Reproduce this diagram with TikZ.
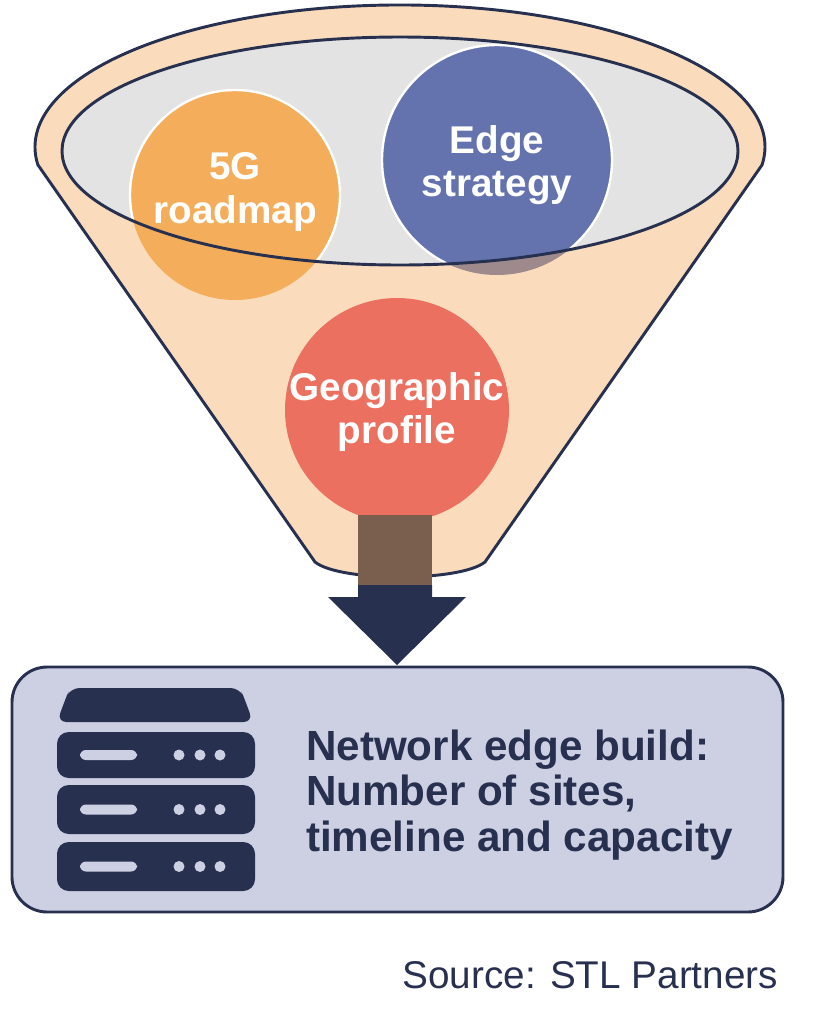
\documentclass[tikz,border=0pt]{standalone}
\usepackage{fontspec}
\setmainfont{Liberation Sans}
\definecolor{navy}{HTML}{283050}
\definecolor{funnel}{HTML}{FADCBD}
\definecolor{inner}{HTML}{E3E3E3}
\definecolor{orng}{HTML}{F4AD5A}
\definecolor{blu}{HTML}{6473AE}
\definecolor{blumuted}{HTML}{9E8A8C}
\definecolor{red}{HTML}{EB7060}
\definecolor{stem}{HTML}{7A5F4F}
\definecolor{boxc}{HTML}{CDD0E3}
\begin{document}
\begin{tikzpicture}[x=0.03cm,y=-0.03cm,
  ctext/.style={text=white,font=\fontsize{33}{37}\selectfont\bfseries,align=center},
  icon/.style={fill=navy},
  slot/.style={fill=boxc}]
\useasboundingbox (0,0) rectangle (821,1024);
% funnel body
\draw[navy,line width=2.5pt,fill=funnel] (38,165) -- (315,562) .. controls (340,582) and (460,582) .. (485,562) -- (762,165) arc[start angle=7.3,end angle=-187.3,x radius=365,y radius=142] -- cycle;
% inner ellipse fill
\fill[inner] (400,151) ellipse[x radius=338,y radius=114];
% circles
\fill[orng] (235,195) circle[radius=105];
\fill[blumuted] (497,160) circle[radius=115];
\begin{scope}
\clip (400,151) ellipse[x radius=338,y radius=114];
\draw[white,line width=2pt,fill=orng] (235,195) circle[radius=105];
\draw[white,line width=2pt,fill=blu] (497,160) circle[radius=115];
\end{scope}
\draw[navy,line width=2.5pt] (400,151) ellipse[x radius=338,y radius=114];
\node[ctext] (c1) at (235,192) {5G\\roadmap};
\node[ctext] (c2) at (497,165) {Edge\\strategy};
\fill[red] (397,410) circle[radius=112];
\node[ctext] (c3) at (397,412) {Geographic\\profile};
% stem and arrow
\fill[stem] (358,515) rectangle (432,586);
\fill[navy] (358,585) -- (432,585) -- (432,597) -- (466,597) -- (397,665) -- (328,597) -- (358,597) -- cycle;
% box
\draw[navy,line width=2.5pt,fill=boxc,rounded corners=30pt] (12,667) rectangle (783,912);
% server icon
\fill[icon,rounded corners=8pt] (57,722) -- (65,700) -- (70,688) -- (240,688) -- (245,700) -- (253,722) -- cycle;
\foreach \a/\b in {732/778,785/834,842/891}{
  \fill[icon,rounded corners=10pt] (57,\a) -- (255,\a) -- (255,\b) -- (57,\b) -- cycle;
  \fill[slot,rounded corners=5pt] (80,{(\a+\b)/2-5}) rectangle (137,{(\a+\b)/2+5});
  \foreach \x in {179,200,220} \fill[slot] (\x,{(\a+\b)/2}) circle[radius=5.5];
}
\node[anchor=west,text=navy,align=left,font=\fontsize{36}{39}\selectfont\bfseries] (t) at (302,795) {Network edge build:\\Number of sites,\\timeline and capacity};
\node[anchor=east,text=navy,font=\fontsize{33}{36}\selectfont] (s) at (782,975) {Source: STL Partners};
\end{tikzpicture}
\end{document}
